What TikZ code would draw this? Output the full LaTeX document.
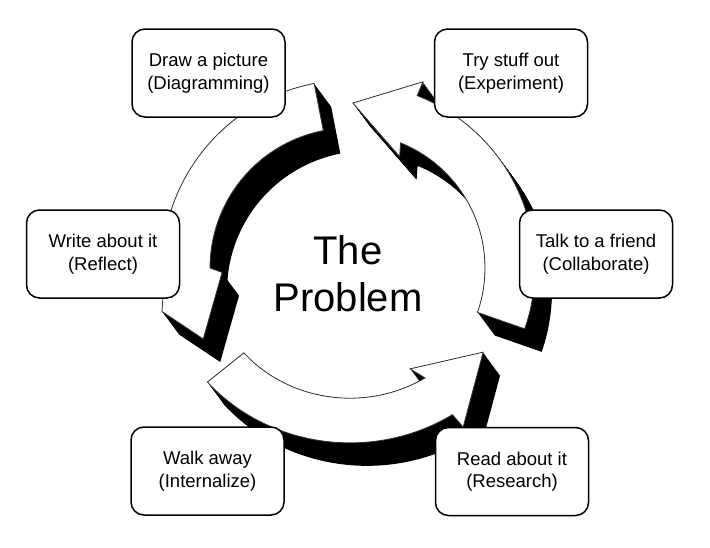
\documentclass[tikz,border=0pt]{standalone}
\usepackage{fontspec}
\setmainfont{Liberation Sans}
\newcommand\arrowpath{%
 plot[domain=\aTail:\aOE, samples=60] ({\aCX+\aSX*\aRO*cos(\x)},{\aCY-\aSY*\aRO*sin(\x)})
 -- ({\aCX+\aSX*\aOBR*cos(\aOBT)},{\aCY-\aSY*\aOBR*sin(\aOBT)})
 -- ({\aCX+\aSX*\aTR*cos(\aTT)},{\aCY-\aSY*\aTR*sin(\aTT)})
 -- ({\aCX+\aSX*\aIBR*cos(\aIBT)},{\aCY-\aSY*\aIBR*sin(\aIBT)})
 -- plot[domain=\aIE:\aTail, samples=60] ({\aCX+\aSX*\aRI*cos(\x)},{\aCY-\aSY*\aRI*sin(\x)})
 -- cycle}
\newcommand\extrudearrow{%
 \foreach \k in {0,...,30}{\fill[black, shift={({\k*17/30},{\k*23/30})}] \arrowpath;}
 \filldraw[face] \arrowpath;}
\begin{document}
\begin{tikzpicture}[x=1pt,y=-1pt,
  face/.style={fill=white, draw=black!80, line width=0.8pt, line join=miter},
  box/.style={draw=black, line width=1.5pt, rounded corners=13pt, fill=white,
    minimum width=153pt, minimum height=88pt, align=center, inner sep=0pt,
    font=\fontsize{18.5}{22.5}\selectfont}]
\useasboundingbox (0,0) rectangle (710,547);
\fill[white] (0,0) rectangle (710,547);
% left arrow
\def\aCX{350}\def\aCY{268}\def\aSX{1}\def\aSY{1}
\def\aRI{140}\def\aRO{188}\def\aTail{101}\def\aOE{187}
\def\aOBT{193}\def\aOBR{193}\def\aTT{205.8}\def\aTR{163}
\def\aIBT{182}\def\aIBR{128}\def\aIE{180}
\extrudearrow
% right arrow
\def\aCX{350}\def\aCY{268}\def\aSX{1}\def\aSY{1}
\def\aRI{135}\def\aRO{185}\def\aTail{-19.2}\def\aOE{68.7}
\def\aOBT{68.6}\def\aOBR{200}\def\aTT{89}\def\aTR{165}
\def\aIBT{66}\def\aIBR{122}\def\aIE{68}
\extrudearrow
% bottom arrow
\def\aCX{350}\def\aCY{268}\def\aSX{1}\def\aSY{0.93}
\def\aRI{140}\def\aRO{188}\def\aTail{220.7}\def\aOE{303}
\def\aOBT{303.5}\def\aOBR{205}\def\aTT{325.8}\def\aTR{161}
\def\aIBT{299}\def\aIBR{124}\def\aIE{302.4}
\extrudearrow
% boxes
\node[box] (draw) at (208.5,73) {Draw a picture\\(Diagramming)};
\node[box] (try) at (511,73) {Try stuff out\\(Experiment)};
\node[box] (write) at (103,254) {Write about it\\(Reflect)};
\node[box] (talk) at (596,254) {Talk to a friend\\(Collaborate)};
\node[box] (walk) at (207.5,471) {Walk away\\(Internalize)};
\node[box] (read) at (512,471.5) {Read about it\\(Research)};
\node[font=\fontsize{40}{47}\selectfont, align=center] (problem) at (348,274) {The\\Problem};
\end{tikzpicture}
\end{document}
